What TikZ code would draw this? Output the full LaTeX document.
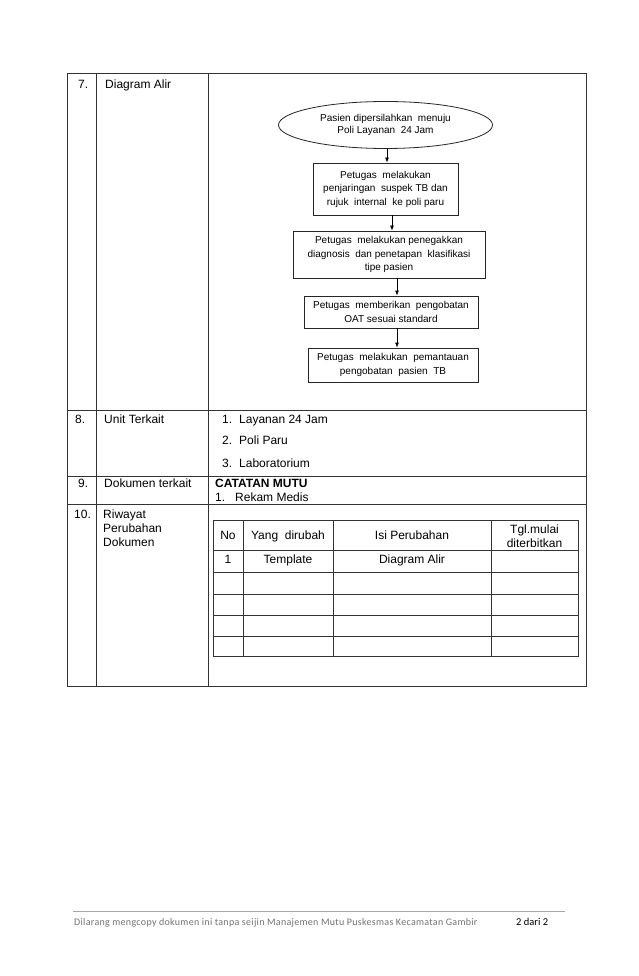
\documentclass[tikz,border=0pt]{standalone}
\usepackage{fontspec}
\setmainfont{Liberation Sans}
\newfontfamily\footfont[LetterSpace=3]{Carlito}
\newfontfamily\pagefont{Carlito}
\usetikzlibrary{arrows.meta,shapes.geometric}
\begin{document}
\begin{tikzpicture}[x=1pt,y=-1pt,
  tl/.style={anchor=base west,inner sep=0pt,font=\fontsize{12}{14}\selectfont},
  tc/.style={anchor=base,inner sep=0pt,font=\fontsize{12}{14}\selectfont},
  grid/.style={line width=1pt,draw=black!80},
  flowbox/.style={draw=black!85,line width=0.8pt,rectangle,inner sep=0pt,align=center,font=\fontsize{10}{13.5}\selectfont},
  flowell/.style={draw=black!85,line width=0.8pt,ellipse,inner sep=0pt,align=center,font=\fontsize{10}{11.5}\selectfont},
  arr/.style={line width=0.8pt,-{Latex[length=5pt,width=4pt]}}
  ]
\useasboundingbox[fill=white] (0,0) rectangle (638,976);
% outer table
\draw[grid] (67,74) rectangle (586,686);
\draw[grid] (96,74) -- (96,686);
\draw[grid] (208,74) -- (208,686);
\draw[grid] (67,410) -- (586,410);
\draw[grid] (67,476) -- (586,476);
\draw[grid] (67,504) -- (586,504);
% row 7
\node[tl] (n7) at (78,89) {7.};
\node[tl] (l7) at (105,89) {Diagram Alir};
% flowchart
\node[flowell,minimum width=214,minimum height=47] (e) at (385.5,125) {Pasien dipersilahkan\ \ menuju\\Poli Layanan\ \ 24 Jam};
\node[flowbox,minimum width=145,minimum height=52] (b1) at (385.5,189) {Petugas\ \ melakukan\\penjaringan\ \ suspek TB dan\\rujuk\ \ internal\ \ ke poli paru};
\node[flowbox,minimum width=192,minimum height=47] (b2) at (389,254.5) {Petugas\ \ melakukan penegakkan\\diagnosis\ \ dan penetapan\ \ klasifikasi\\tipe pasien};
\node[flowbox,minimum width=174,minimum height=32] (b3) at (391,312) {Petugas\ \ memberikan\ \ pengobatan\\OAT sesuai standard};
\node[flowbox,minimum width=170,minimum height=34] (b4) at (393,365) {Petugas\ \ melakukan\ \ pemantauan\\pengobatan\ \ pasien\ \ TB};
\draw[arr] (e.south -| 387,0) -- (b1.north -| 387,0);
\draw[arr] (b1.south -| 392,0) -- (b2.north -| 392,0);
\draw[arr] (b2.south -| 397,0) -- (b3.north -| 397,0);
\draw[arr] (b3.south -| 397,0) -- (b4.north -| 397,0);
% row 8
\node[tl] (n8) at (75,423) {8.};
\node[tl] (l8) at (104,423) {Unit Terkait};
\node[tl] (u1n) at (222,423) {1.};
\node[tl] (u1) at (239,423) {Layanan\ 24 Jam};
\node[tl] (u2n) at (222,444) {2.};
\node[tl] (u2) at (239,444) {Poli Paru};
\node[tl] (u3n) at (222,467) {3.};
\node[tl] (u3) at (239,467) {Laboratorium};
% row 9
\node[tl] (n9) at (78,487) {9.};
\node[tl] (l9) at (104,487) {Dokumen terkait};
\node[tl,font=\fontsize{12}{14}\selectfont\bfseries] (cm) at (215,487) {CATATAN MUTU};
\node[tl] (r1n) at (215,501) {1.};
\node[tl] (r1) at (235,501) {Rekam Medis};
% row 10
\node[tl] (n10) at (74,518) {10.};
\node[tl] (l10a) at (103,518) {Riwayat};
\node[tl] (l10b) at (103,532) {Perubahan};
\node[tl] (l10c) at (103,546) {Dokumen};
% inner table
\draw[grid] (213,520) rectangle (578,656);
\foreach \xx in {243,333,491} \draw[grid] (\xx,520) -- (\xx,656);
\foreach \yy in {550,572,594,615,636} \draw[grid] (213,\yy) -- (578,\yy);
\node[tc] (h1) at (228,539) {No};
\node[tc] (h2) at (288,539) {Yang\ \ dirubah};
\node[tc] (h3) at (412,539) {Isi Perubahan};
\node[tc] (h4a) at (534.5,533) {Tgl.mulai};
\node[tc] (h4b) at (534.5,547) {diterbitkan};
\node[tc] (c1) at (228,563) {1};
\node[tc] (c2) at (288,563) {Template};
\node[tc] (c3) at (412,563) {Diagram Alir};
% footer
\draw[black!35,line width=0.6pt] (73,911) -- (565,911);
\node[anchor=base west,inner sep=0pt,text=black!55,font=\footfont\fontsize{10}{11}\selectfont] (ft) at (74,925) {Dilarang mengcopy dokumen ini tanpa seijin Manajemen Mutu Puskesmas Kecamatan Gambir};
\node[anchor=base west,inner sep=0pt,font=\pagefont\fontsize{10.5}{12}\selectfont] (pg) at (516,925) {2 dari 2};
\end{tikzpicture}
\end{document}
